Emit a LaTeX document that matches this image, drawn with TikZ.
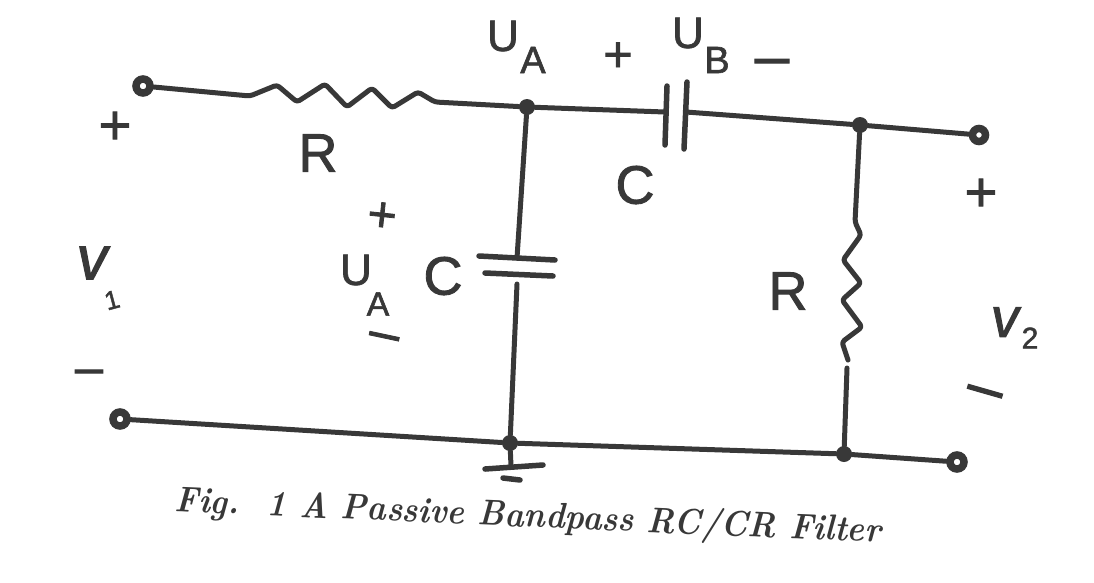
\documentclass[tikz,border=0pt]{standalone}
\usepackage{fontspec}
\newfontfamily\hand[FakeBold=1.6]{Liberation Sans}
\newfontfamily\handi[FakeBold=1.6,FakeSlant=0.15]{Liberation Sans}
\definecolor{ink}{HTML}{383838}
\tikzset{
  wire/.style={draw=ink,line width=5pt,line join=round,line cap=round},
  zig/.style={wire,rounded corners=3pt},
  plate/.style={draw=ink,line width=5.5pt,line cap=round},
  dot/.style={circle,fill=ink,inner sep=0pt,minimum size=16pt},
  term/.style={circle,draw=ink,fill=white,line width=7.5pt,inner sep=0pt,minimum size=14pt},
  lab/.style={text=ink,inner sep=0pt,font=\hand\fontsize{#1}{#1}\selectfont},
  vlab/.style={text=ink,inner sep=0pt,font=\handi\fontsize{#1}{#1}\selectfont}
}
\begin{document}
\begin{tikzpicture}[x=1pt,y=-1pt]
\useasboundingbox[fill=white] (0,0) rectangle (1094,582);
% named points
\node[term] (t1) at (143,86) {};
\node[term,minimum size=13pt] (t2) at (979,135) {};
\node[term] (t3) at (120,419) {};
\node[term] (t4) at (957,462) {};
\node[dot] (nA) at (527,107) {};
\node[dot] (nB) at (860,125) {};
\node[dot] (nC) at (510,443) {};
\node[dot] (nD) at (844,454) {};
\coordinate (r1a) at (250,96);
\coordinate (r1b) at (435,102);
\coordinate (c1a) at (665,112);
\coordinate (c1b) at (686,112);
\coordinate (c2a) at (517,258);
\coordinate (c2b) at (517,284);
\coordinate (r2a) at (855,222);
\coordinate (r2b) at (848,360);
\coordinate (w2) at (847,368);
\coordinate (g0) at (511,466);
\coordinate (g1a) at (485,469);
\coordinate (g1b) at (543,465);
\coordinate (g2a) at (503,478);
\coordinate (g2b) at (520,480);
% wires
\draw[zig] (t1) -- (r1a) -- (277,85) -- (297,102) -- (325,84) -- (347,107) -- (372,88) -- (392,108) -- (418,92) -- (r1b) -- (nA);
\draw[wire] (nA) -- (c1a);
\draw[wire] (c1b) -- (nB);
\draw[wire] (nB) -- (t2);
\draw[wire] (nA) -- (c2a);
\draw[wire] (c2b) -- (nC);
\draw[zig] (nB) -- (r2a) -- (861,235) -- (843,260) -- (861,283) -- (842,300) -- (862,327) -- (842,342) -- (r2b);
\draw[wire] (w2) -- (nD);
\draw[wire] (t3) -- (nC);
\draw[wire] (nC) -- (nD);
\draw[wire] (nD) -- (t4);
\draw[wire] (nC) -- (g0);
% capacitor plates and ground
\draw[plate] (667,86) -- (665,145);
\draw[plate] (687,82) -- (684,149);
\draw[plate] (479,256) -- (555,260);
\draw[plate] (485,273) -- (553,276);
\draw[plate] (g1a) -- (g1b);
\draw[plate] (g2a) -- (g2b);
% labels
\node[lab=54] (lR1) at (318,153) {R};
\node[lab=44] (lU1) at (503,36) {U};
\node[lab=38] (lA1) at (533,60) {A};
\node[lab=50] (lp1) at (618,57) {+};
\node[lab=44] (lU2) at (688,33) {U};
\node[lab=38] (lB) at (717,60) {B};
\node[lab=62] (lm1) at (772,68) {–};
\node[lab=54] (lC1) at (635,185) {C};
\node[lab=56] (lp2) at (981,195) {+};
\node[lab=50,rotate=-6] (lp3) at (382,217) {+};
\node[lab=44] (lU3) at (356,270) {U};
\node[lab=34] (lA2) at (378,304) {A};
\node[lab=54,rotate=-12] (lm2) at (383,342) {–};
\node[lab=54] (lC2) at (443,276) {C};
\node[lab=56] (lp4) at (115,128) {+};
\node[vlab=62] (lv1) at (90,263) {v};
\node[lab=26,rotate=15] (lv1s) at (112,300) {1};
\node[lab=50] (lm3) at (89,377) {–};
\node[lab=54] (lR2) at (788,291) {R};
\node[vlab=56] (lv2) at (1003,322) {v};
\node[lab=30] (lv2s) at (1030,338) {2};
\node[lab=64,rotate=-16] (lm4) at (983,398) {–};
% caption
\node[text=ink,inner sep=0pt,rotate=-2.5,font=\itshape\bfseries\fontsize{36}{40}\selectfont] (cap) at (528,518) {\scalebox{.91}[1]{Fig.\ \ 1 A Passive Bandpass RC/CR Filter}};
\end{tikzpicture}
\end{document}
